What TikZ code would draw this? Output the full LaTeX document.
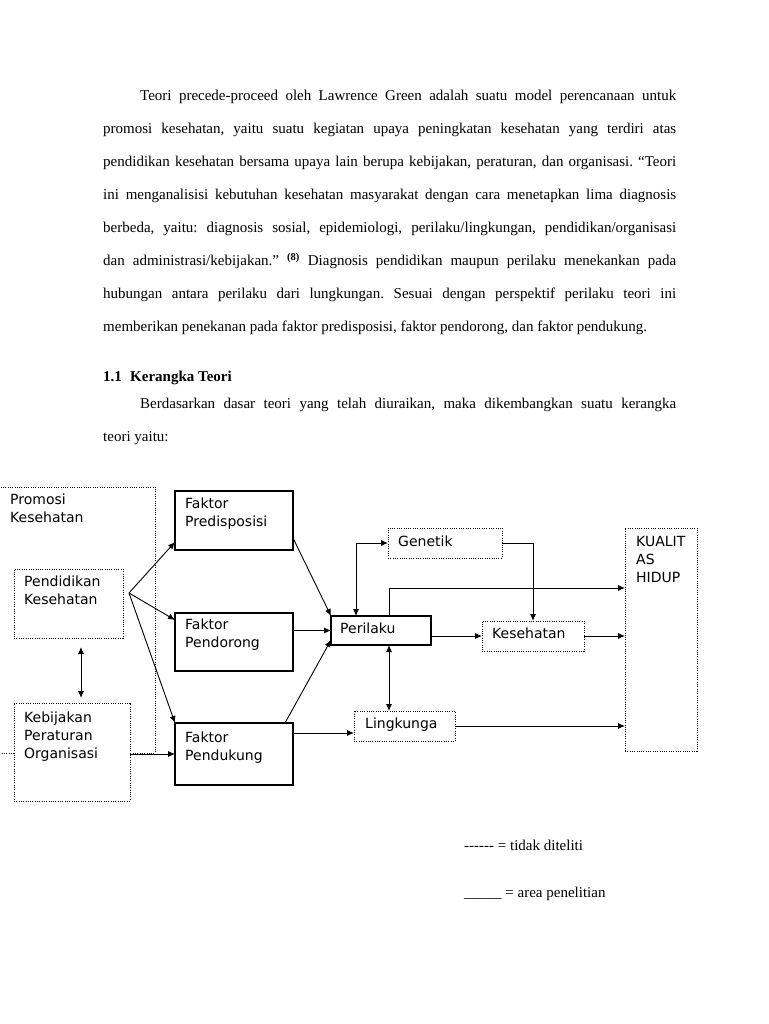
\documentclass[tikz,border=0pt]{standalone}
\usepackage{fontspec}
\setmainfont{Liberation Serif}
\newfontfamily\dv{DejaVu Sans}
\usetikzlibrary{arrows.meta}
\newcommand\bodyspacing{\frenchspacing\spaceskip=3.75pt plus 12pt minus 1.2pt\relax}
\newcommand\jline[1]{\makebox[573pt][s]{#1}}
\tikzset{
  solidbox/.style={draw, fill=white, line width=1.1pt, inner sep=0pt, outer sep=0pt, anchor=north west},
  dotbox/.style={draw, fill=white, line width=1pt, dash pattern=on 1pt off 1.3pt, inner sep=0pt, outer sep=0pt, anchor=north west},
  dtext/.style={font=\dv\fontsize{14}{18}\selectfont, text width=120pt, align=left, inner sep=0pt, anchor=base west},
  btext/.style={font=\fontsize{15}{33}\selectfont, execute at begin node=\bodyspacing, inner sep=0pt, anchor=base west},
  arr/.style={line width=0.9pt, -{Latex[length=7pt,width=6pt]}},
  darr/.style={line width=0.9pt, {Latex[length=7pt,width=6pt]}-{Latex[length=7pt,width=6pt]}}
}
\begin{document}
\begin{tikzpicture}[x=1pt,y=-1pt]
\useasboundingbox (0,0) rectangle (768,1024);
\fill[white] (0,0) rectangle (768,1024);
% body text
\node[btext, text width=573pt, align=left] (para) at (103,101) {%
\jline{\hspace*{37pt}Teori precede-proceed oleh Lawrence Green adalah suatu model perencanaan untuk}\\
\jline{promosi kesehatan, yaitu suatu kegiatan upaya peningkatan kesehatan yang terdiri atas}\\
\jline{pendidikan kesehatan bersama upaya lain berupa kebijakan, peraturan, dan organisasi. “Teori}\\
\jline{ini menganalisisi kebutuhan kesehatan masyarakat dengan cara menetapkan lima diagnosis}\\
\jline{berbeda, yaitu: diagnosis sosial, epidemiologi, perilaku/lingkungan, pendidikan/organisasi}\\
\jline{dan administrasi/kebijakan.” \textsuperscript{\textbf{(8)}} Diagnosis pendidikan maupun perilaku menekankan pada}\\
\jline{hubungan antara perilaku dari lungkungan. Sesuai dengan perspektif perilaku teori ini}\\
memberikan penekanan pada faktor predisposisi, faktor pendorong, dan faktor pendukung.};
\node[btext] (heading) at (103,381) {\makebox[27pt][l]{\textbf{1.1}}\textbf{Kerangka Teori}};
\node[btext, text width=573pt, align=left] (para2) at (103,408) {%
\jline{\hspace*{37pt}Berdasarkan dasar teori yang telah diuraikan, maka dikembangkan suatu kerangka}\\
teori yaitu:};
% boxes
\node[dotbox, minimum width=158pt, minimum height=266pt] (promo) at (-3,487) {};
\node[dotbox, minimum width=109pt, minimum height=69pt] (pend) at (14,569) {};
\node[dotbox, minimum width=116pt, minimum height=98pt] (kebij) at (14,703) {};
\node[solidbox, minimum width=118pt, minimum height=59pt] (pred) at (175,491) {};
\node[solidbox, minimum width=118pt, minimum height=58pt] (pendor) at (175,613) {};
\node[solidbox, minimum width=118pt, minimum height=62pt] (penduk) at (175,723) {};
\node[solidbox, minimum width=100pt, minimum height=29pt] (peril) at (331,616) {};
\node[dotbox, minimum width=114pt, minimum height=30pt] (genet) at (388,528) {};
\node[dotbox, minimum width=102pt, minimum height=30pt] (keseh) at (482,621) {};
\node[dotbox, minimum width=101pt, minimum height=30pt] (lingk) at (354,711) {};
\node[dotbox, minimum width=72pt, minimum height=223pt] (kual) at (625,528) {};
% texts
\node[dtext] (promoT) at (10,504) {Promosi\\Kesehatan};
\node[dtext] (pendT) at (24,586) {Pendidikan\\Kesehatan};
\node[dtext] (kebijT) at (24,722) {Kebijakan\\Peraturan\\Organisasi};
\node[dtext] (predT) at (185,508) {Faktor\\Predisposisi};
\node[dtext] (pendorT) at (185,629) {Faktor\\Pendorong};
\node[dtext] (pendukT) at (185,742) {Faktor\\Pendukung};
\node[dtext] (genetT) at (398,546) {Genetik};
\node[dtext] (perilT) at (340,633) {Perilaku};
\node[dtext] (kesehT) at (492,638) {Kesehatan};
\node[dtext] (lingkT) at (365,728) {Lingkunga};
\node[dtext, text width=60pt] (kualT) at (636,546) {KUALIT\\AS\\HIDUP};
% connectors
\coordinate (fan) at (129,593);
\draw[arr] (fan) -- ([yshift=8pt]pred.south west);
\draw[arr] (fan) -- ([yshift=-7pt]pendor.north west);
\draw[arr] (fan) -- (penduk.north west);
\draw[arr] (penduk.west -| kebij.east) -- (penduk.west);
\coordinate (v1) at (81,647);
\coordinate (v2) at (81,698);
\draw[darr] (v1) -- (v2);
\draw[arr] ([yshift=12pt]pred.south east) -- (peril.north west);
\draw[arr] (pendor.east |- peril.west) -- (peril.west);
\draw[arr] ([xshift=-8pt]penduk.north east) -- ([yshift=5pt]peril.south west);
\path ([yshift=-7pt]lingk.west) coordinate (lk);
\draw[arr] (lk -| penduk.east) -- (lk);
\draw[darr] ([xshift=25pt]peril.north west) |- (genet.west);
\draw[arr] ([xshift=58pt]peril.north west) |- ([yshift=-60pt]kual.north west);
\draw[arr] (genet.east) -| ([xshift=51pt]keseh.north west);
\draw[arr] (peril.east |- keseh.west) -- (keseh.west);
\draw[arr] (keseh.east) -- (keseh.east -| kual.west);
\path ([xshift=58pt]peril.south west) coordinate (pb);
\draw[darr] (pb) -- (pb |- lingk.north);
\draw[arr] (lingk.east) -- (lingk.east -| kual.west);
% legend
\node[btext] (leg1) at (464,850) {-\kern0pt-\kern0pt-\kern0pt-\kern0pt-\kern0pt- = tidak diteliti};
\node[btext] (leg2) at (464,897) {\_\_\_\_\_ = area penelitian};
\end{tikzpicture}
\end{document}
